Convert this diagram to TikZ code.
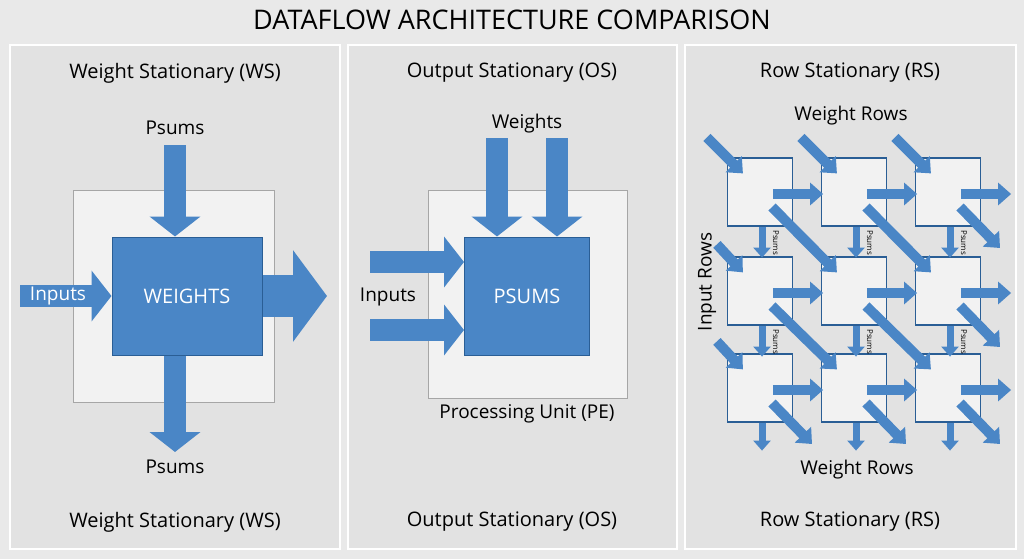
\documentclass[tikz,border=0pt]{standalone}
\usepackage{fontspec}
\setmainfont{Open Sans}
\usetikzlibrary{arrows.meta,positioning,calc}

\definecolor{bggray}{HTML}{E9E9E9}
\definecolor{panelgray}{HTML}{E2E2E2}
\definecolor{boxgray}{HTML}{F2F2F2}
\definecolor{peblue}{HTML}{4A86C6}
\definecolor{edgeblue}{HTML}{2A5E95}

\tikzset{
  panel/.style={draw=white, line width=1.5pt, fill=panelgray},
  unit/.style={draw=gray!70, line width=0.8pt, fill=boxgray},
  core/.style={draw=edgeblue, line width=1pt, fill=peblue, text=white, font=\fontsize{20}{24}\selectfont},
  pe/.style={draw=edgeblue, line width=1.2pt, fill=boxgray, minimum width=65pt, minimum height=68pt, inner sep=0pt},
  big/.style={draw=peblue, line width=22pt, -{Triangle[length=20pt,width=50pt]}},
  huge/.style={draw=peblue, line width=42pt, -{Triangle[length=34pt,width=90pt]}},
  mid/.style={draw=peblue, line width=10pt, -{Triangle[length=13pt,width=22pt]}},
  thin/.style={draw=peblue, line width=7pt, -{Triangle[length=10pt,width=17pt]}},
  lbl/.style={font=\fontsize{19}{22}\selectfont},
  ttl/.style={font=\fontsize{20}{24}\selectfont},
}

\begin{document}
\begin{tikzpicture}[x=1pt,y=-1pt]
\useasboundingbox[fill=bggray] (0,0) rectangle (1024,559);
\node[font=\fontsize{27}{32}\selectfont] (title) at (512,20) {DATAFLOW ARCHITECTURE COMPARISON};

% panels
\draw[panel] (10,45) rectangle (340,549);
\draw[panel] (348,45) rectangle (677,549);
\draw[panel] (685,45) rectangle (1016,549);

% weight stationary
\node[ttl] (wsT) at (175,73) {Weight Stationary (WS)};
\draw[unit] (73,190) rectangle (274,402);
\node[core, minimum width=150pt, minimum height=118pt] (ws) at (187,296) {};
\coordinate (wsTop) at (175,145);
\coordinate (wsBot) at (175,452);
\coordinate (wsIn) at (20,296);
\coordinate (wsOut) at (327,296);
\draw[big] (wsTop) -- (ws.north -| wsTop);
\draw[big] (ws.south -| wsBot) -- (wsBot);
\draw[big] (wsIn) -- (ws.west);
\draw[huge] (ws.east) -- (wsOut);
\node[lbl, text=white] (wsInL) at (58,296) {Inputs};
\node[core, fill=none, draw=none] at (ws) {WEIGHTS};
\node[lbl] (wsP1) at (175,128) {Psums};
\node[lbl] (wsP2) at (175,467) {Psums};
\node[ttl] (wsC) at (175,522) {Weight Stationary (WS)};

% output stationary
\node[ttl] (osT) at (512,73) {Output Stationary (OS)};
\draw[unit] (428,190) rectangle (627,398);
\node[core, minimum width=125pt, minimum height=118pt] (os) at (527,296) {PSUMS};
\foreach \x/\n in {497/a,557/b}{
  \coordinate (osW\n) at (\x,138);
  \draw[big] (osW\n) -- (os.north -| osW\n);
}
\foreach \y/\n in {262/a,330/b}{
  \coordinate (osI\n) at (370,\y);
  \draw[big] (osI\n) -- (os.west |- osI\n);
}
\node[lbl] (osW) at (527,124) {Weights};
\node[lbl] (osI) at (388,297) {Inputs};
\node[lbl] (osPE) at (527,414) {Processing Unit (PE)};
\node[ttl] (osC) at (512,522) {Output Stationary (OS)};

% row stationary
\node[ttl] (rsT) at (850,73) {Row Stationary (RS)};
\node[lbl] (rsW1) at (851,116) {Weight Rows};
\node[lbl] (rsW2) at (857,470) {Weight Rows};
\node[lbl, rotate=90] (rsI) at (707,282) {Input Rows};
\foreach \c/\x in {0/760,1/854,2/948}
  \foreach \r/\y in {0/192,1/291,2/388}
    \node[pe] (pe\c\r) at (\x,\y) {};
\foreach \c in {0,1,2}{
  % weights entering the top row
  \draw[mid] ($(pe\c0.north west)+(-20,-20)$) -- ($(pe\c0.north west)+(16,16)$);
  \foreach \r in {0,1,2}{
    \draw[mid] ($(pe\c\r.west)+(46,2)$) -- ($(pe\c\r.east)+(30,2)$);
  }
  \foreach \r in {0,1}{
    \draw[thin] ($(pe\c\r.south)+(2,0)$) -- ($(pe\c\r.south)+(2,31)$);
    \node[rotate=-90, font=\fontsize{8}{9}\selectfont, inner sep=0pt] at ($(pe\c\r.south)+(16,16)$) {Psums};
  }
  \draw[thin] ($(pe\c2.south)+(2,0)$) -- ($(pe\c2.south)+(2,28)$);
  \draw[mid] ($(pe\c2.center)+(12,15)$) -- ($(pe\c2.center)+(52,56)$);
}
% diagonals between neighbouring PEs
\foreach \c/\d in {0/1,1/2}
  \foreach \r/\s in {0/1,1/2}
    \draw[mid] ($(pe\c\r.center)+(12,15)$) -- ($(pe\d\s.north west)+(16,16)$);
\foreach \r in {0,1}
  \draw[mid] ($(pe2\r.center)+(12,15)$) -- ($(pe2\r.center)+(52,56)$);
% input rows entering the left column
\foreach \r in {1,2}
  \draw[mid] ($(pe0\r.north west)+(-10,-12)$) -- ($(pe0\r.north west)+(16,16)$);
\node[ttl] (rsC) at (850,522) {Row Stationary (RS)};
\end{tikzpicture}
\end{document}
